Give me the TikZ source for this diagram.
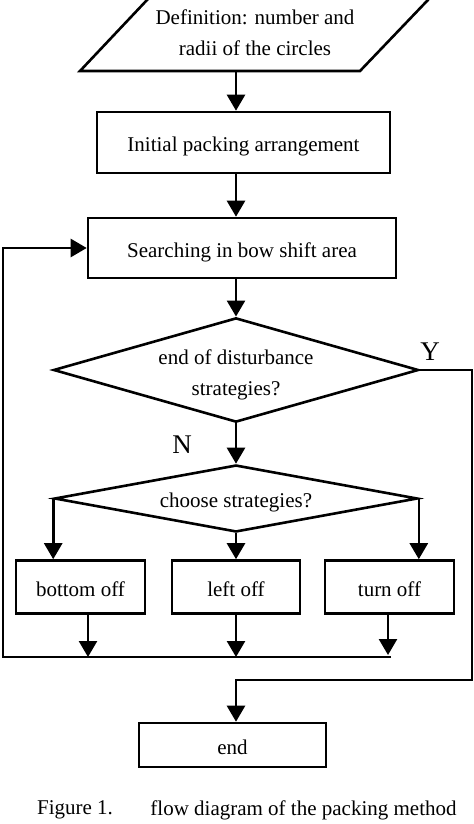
\documentclass[tikz,border=0pt]{standalone}
\usepackage{fontspec}
\setmainfont{Liberation Serif}
\usetikzlibrary{arrows.meta,shapes.geometric}
\begin{document}
\begin{tikzpicture}[x=0.5pt,y=-0.5pt,
  lw/.style={line width=1.3pt},
  txt/.style={font=\fontsize{10.5}{15.5}\selectfont,align=center},
  box/.style={draw,lw,rectangle,inner sep=0pt,txt,text height=11.5pt,text depth=2.5pt},
  dia/.style={draw,lw,diamond,inner sep=0pt,txt},
  arr/.style={lw,-{Triangle[width=9pt,length=8pt]}},
  plain/.style={lw},
  lbl/.style={font=\fontsize{13.5}{16}\selectfont,inner sep=0pt}]
\clip (0,0) rectangle (474,824);
\fill[white] (0,0) rectangle (474,824);
% input parallelogram (top edge outside the picture)
\draw[plain] (153.6,-7) -- (80,71) -- (360,71) -- (434.6,-7) -- cycle;
\node[txt] (def) at (255,33) {Definition: number and\\radii of the circles};
\coordinate (defb) at (236,71);
\coordinate (ax) at (236,0);
% process boxes
\node[box,minimum width=146.5pt,minimum height=30.5pt] (init) at (243.5,142.5) {Initial packing arrangement};
\node[box,minimum width=154pt,minimum height=30pt] (search) at (242,248) {Searching in bow shift area};
% decisions
\node[dia,minimum width=180pt,minimum height=51pt,aspect=3.5,text height=27.5pt,text depth=2.5pt] (d1) at (236,370) {end of disturbance\\strategies?};
\node[dia,minimum width=181.5pt,minimum height=33.5pt,aspect=5.4,text height=11.5pt,text depth=2.5pt] (d2) at (236,498.5) {choose strategies?};
% strategy boxes
\node[box,minimum width=64.5pt,minimum height=26.5pt] (bo) at (80.5,587) {bottom off};
\node[box,minimum width=64pt,minimum height=26.5pt] (lo) at (236,587) {left off};
\node[box,minimum width=64.5pt,minimum height=26.5pt] (to) at (389.5,587) {turn off};
% end box
\node[box,minimum width=93.5pt,minimum height=22pt] (end) at (232.5,745) {end};
% labels
\node[lbl] (ylab) at (430,352) {Y};
\node[lbl] (nlab) at (182,445) {N};
% helper coordinates
\coordinate (jl) at (3,657);
\coordinate (jr) at (391,657);
\coordinate (b1) at (88,657);
\coordinate (b3) at (388,655);
\coordinate (yr) at (472,680);
\coordinate (ye) at (236,680);
% connectors
\draw[arr] (defb) -- (defb |- init.north);
\draw[arr] (init.south -| ax) -- (search.north -| ax);
\draw[arr] (search.south -| ax) -- (d1.north);
\draw[arr] (d1.south) -- (d2.north);
\draw[arr] (d2.west) -- (d2.west |- bo.north);
\draw[arr] (d2.south) -- (lo.north);
\draw[arr] (d2.east) -- (d2.east |- to.north);
\draw[arr] (b1 |- bo.south) -- (b1);
\draw[arr] (lo.south) -- (lo.south |- jl);
\draw[arr] (b3 |- to.south) -- (b3);
\draw[arr] (jr) -- (jl) |- (search.west);
\draw[arr] (d1.east) -| (yr) -- (ye) -- (ye |- end.north);
% caption
\node[txt,inner sep=0pt] (cap1) at (75,810) {Figure 1.};
\node[txt,inner sep=0pt] (cap2) at (303.5,810) {flow diagram of the packing method};
\end{tikzpicture}
\end{document}
